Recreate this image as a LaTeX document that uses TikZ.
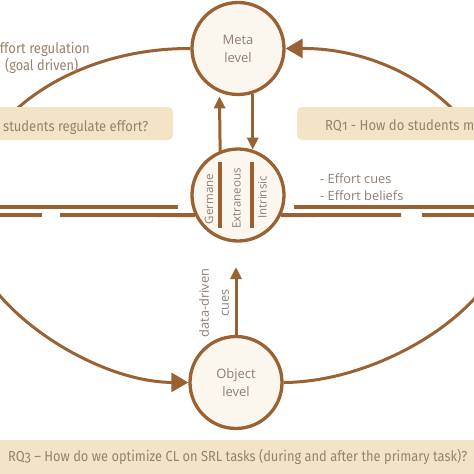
\documentclass[tikz,border=0pt]{standalone}
\usepackage{fontspec}
\setmainfont{Open Sans}
\newfontfamily\boxfont[Numbers=OldStyle]{Fira Sans}
\usetikzlibrary{arrows.meta}
\definecolor{brn}{HTML}{9A6233}
\definecolor{circfill}{HTML}{FBF6EE}
\definecolor{boxfill}{HTML}{F4E4C6}
\definecolor{txt}{HTML}{8E7F72}
\definecolor{boxtxt}{HTML}{97826B}
\begin{document}
\begin{tikzpicture}[x=1pt,y=-1pt,
  lvl/.style={circle, draw=brn, line width=3.3pt, fill=circfill, minimum size=92pt,
    inner sep=0pt, text=txt, font=\fontsize{13}{18}\selectfont, align=center},
  conn/.style={draw=brn, line width=3pt},
  dbl/.style={draw=brn, line width=3.8pt},
  rqbox/.style={fill=boxfill, rounded corners=5pt},
  rqtext/.style={text=boxtxt, inner sep=0pt, font=\boxfont\fontsize{14.5}{17.5}\selectfont},
  lbl/.style={text=txt, inner sep=0pt, font=\fontsize{12.8}{20}\selectfont},
  clt/.style={text=txt, inner sep=0pt, font=\fontsize{11.5}{14}\selectfont, rotate=90},
  bighead/.style={-{Triangle[length=17pt,width=19pt]}},
  smallhead/.style={-{Triangle[length=12pt,width=11pt]}},
]
\fill[white] (0,0) rectangle (474,474);
\useasboundingbox (0,0) rectangle (474,474);

% circles
\node[lvl] (meta) at (238,48.5) {Meta\\level};
\node[lvl] (mid) at (238,195) {};
\node[lvl] (obj) at (236,382.5) {Object\\level};

% free ends of the big loop
\coordinate (tlEnd) at (-35,215);
\coordinate (trEnd) at (500,215);
\coordinate (blEnd) at (-30,230);
\coordinate (brEnd) at (510,230);

% big loop
\draw[conn] (meta.west) .. controls (67,48) and (-35,123) .. (tlEnd);
\draw[conn,bighead] (trEnd) .. controls (500,123) and (404,48) .. (meta.east);
\draw[conn,bighead] (blEnd) .. controls (-30,300) and (90,382) .. (obj.west);
\draw[conn] (obj.east) .. controls (380,382) and (500,310) .. (brEnd);

% RQ boxes
\fill[rqbox] (-10,107) rectangle (173,140);
\fill[rqbox] (297,107) rectangle (490,140);
\fill[rqbox] (-10,440) rectangle (490,490);
\node[rqtext, anchor=base west] (rq2) at (3,131) {\resizebox{145pt}{\height}{students regulate effort?}};
\node[rqtext, anchor=base west] (rq1) at (325,130.5) {\resizebox{149pt}{\height}{RQ1 - How do students m}};
\node[rqtext, anchor=base west] (rq3) at (8,461.5) {\resizebox{459pt}{\height}{RQ3 – How do we optimize CL on SRL tasks (during and after the primary task)?}};

% effort regulation label
\node[rqtext, anchor=base east] (er1) at (90,53) {\resizebox{90pt}{\height}{ffort regulation}};
\node[rqtext, anchor=base west] (er2) at (5,70.5) {\resizebox{73pt}{\height}{(goal driven)}};

% inside middle circle
\coordinate (b1t) at (220,162); \coordinate (b1b) at (220,228);
\coordinate (b2t) at (252,162); \coordinate (b2b) at (252,228);
\draw[conn,line width=3.3pt] (b1t) -- (b1b);
\draw[conn,line width=3.3pt] (b2t) -- (b2b);
\node[clt] (ger) at (209,199) {Germane};
\node[clt] (ext) at (236.5,198.5) {Extraneous};
\node[clt] (intr) at (262.5,197.5) {Intrinsic};

% double lines
\coordinate (ul1) at (-5,207); \coordinate (ul2) at (178,207);
\coordinate (ll1) at (-5,215); \coordinate (ll2) at (42,215); \coordinate (ll3) at (60,215);
\coordinate (ur1) at (294,207); \coordinate (ur2) at (480,207);
\coordinate (lr2) at (401,215); \coordinate (lr3) at (422,215); \coordinate (lr4) at (480,215);
\draw[dbl] (ul1) -- (ul2);
\draw[dbl] (ll1) -- (ll2);
\draw[dbl] (ll3) -- (mid.205.8);
\draw[dbl] (ur1) -- (ur2);
\draw[dbl] (mid.-25.8) -- (lr2);
\draw[dbl] (lr3) -- (lr4);

\node[lbl, anchor=base west] (cues) at (320,183) {- Effort cues};
\node[lbl, anchor=base west] (beliefs) at (320,200.5) {- Effort beliefs};

% vertical arrows
\draw[conn,smallhead,shorten >=4pt] (mid.112.2) -- (meta.247.8);
\draw[conn,smallhead] (meta.-72.9) -- (mid.72.9);
\coordinate (ddtip) at (236,267);
\draw[conn,smallhead] (obj.north) -- (ddtip);
\node[lbl, rotate=90, align=center] (dd) at (214,303) {data-driven\\cues};
\end{tikzpicture}
\end{document}
